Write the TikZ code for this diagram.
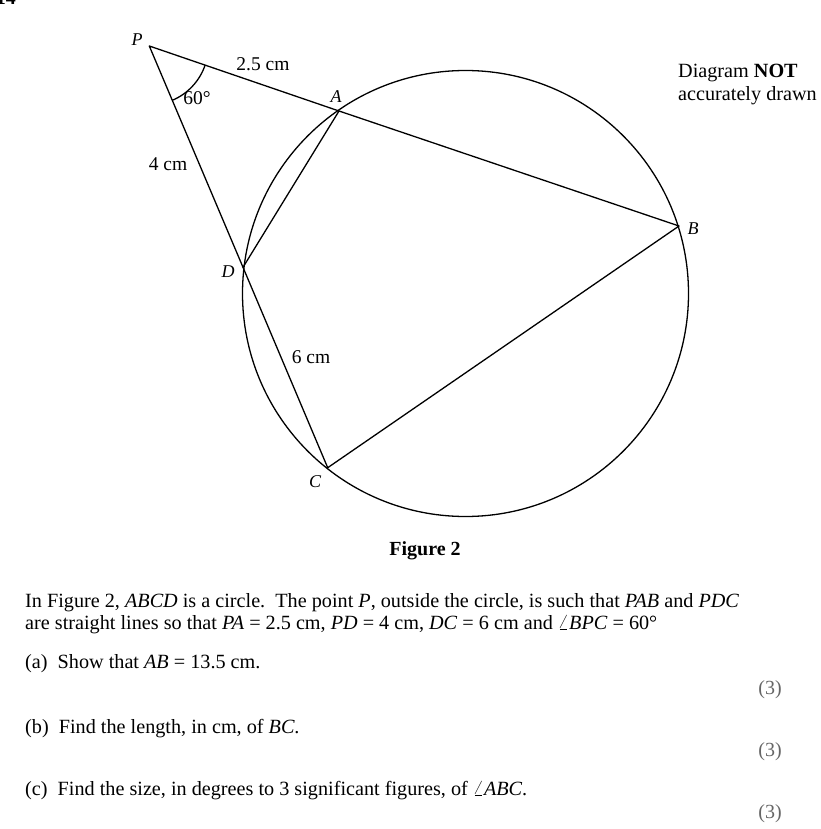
\documentclass[tikz,border=0pt]{standalone}
\usepackage{fontspec}
\setmainfont{Liberation Serif}
\usetikzlibrary{angles}
\begin{document}
\begin{tikzpicture}[x=1pt,y=-1pt,
  edge/.style={line width=1.3pt,line cap=round,line join=round},
  ptlabel/.style={font=\fontsize{18}{20}\selectfont\itshape},
  dimlabel/.style={font=\fontsize{19.5}{22}\selectfont},
  body/.style={font=\fontsize{20.2}{24}\selectfont,anchor=base west,inner sep=0pt},
  marks/.style={font=\fontsize{20}{24}\selectfont,anchor=base,inner sep=0pt,text=black!60}]
\useasboundingbox[fill=white] (0,0) rectangle (820,829);
% clipped question number at the top left
\node[font=\fontsize{20}{24}\selectfont\bfseries,anchor=base east,inner sep=0pt] (qnum) at (16,5) {14};
% points
\coordinate (P) at (149.3,46);
\coordinate (A) at (339,111);
\coordinate (B) at (679,226);
\coordinate (D) at (243,267.3);
\coordinate (C) at (327.7,467.7);
\coordinate (O) at (465.5,293.5);
% circle
\draw[edge] (O) circle[radius=223pt];
% lines
\draw[edge] (P) -- (A) -- (B) -- (C) -- (D) -- (P);
\draw[edge] (A) -- (D);
\pic[draw,line width=1.3pt,angle radius=59pt] {angle=D--P--A};
% labels
\node[ptlabel] (lP) at (137,40) {P};
\node[ptlabel] (lA) at (336,97) {A};
\node[ptlabel] (lB) at (693,229) {B};
\node[ptlabel] (lD) at (228,272) {D};
\node[ptlabel] (lC) at (315,482) {C};
\node[dimlabel] (l25) at (263,64) {2.5 cm};
\node[dimlabel] (l60) at (197,98) {60°};
\node[dimlabel] (l4) at (168,164) {4 cm};
\node[dimlabel] (l6) at (311,357) {6 cm};
\node[body] (nota) at (678,78) {Diagram \textbf{NOT}};
\node[body] (notb) at (678,101) {accurately drawn};
\node[font=\fontsize{20}{24}\selectfont\bfseries,anchor=base,inner sep=0pt] (fig) at (425,555) {Figure 2};
% question text
\node[body] (t1) at (25,607) {In Figure 2, \textit{ABCD} is a circle.\ \ The point \textit{P}, outside the circle, is such that \textit{PAB} and \textit{PDC}};
\node[body] (t2) at (25,629) {are straight lines so that \textit{PA} = 2.5 cm, \textit{PD} = 4 cm, \textit{DC} = 6 cm and $\angle$\textit{BPC} = 60°};
\node[body] (ta) at (25,668) {(a)\ \ Show that \textit{AB} = 13.5 cm.};
\node[body] (tb) at (25,733) {(b)\ \ Find the length, in cm, of \textit{BC}.};
\node[body] (tc) at (25,795) {(c)\ \ Find the size, in degrees to 3 significant figures, of $\angle$\textit{ABC}.};
\node[marks] (m1) at (770,694) {(3)};
\node[marks] (m2) at (770,756) {(3)};
\node[marks] (m3) at (770,818) {(3)};
\end{tikzpicture}
\end{document}
